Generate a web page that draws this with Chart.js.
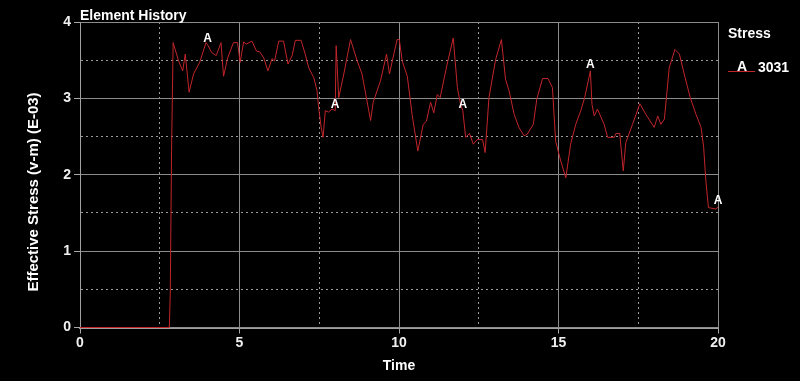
<!DOCTYPE html>
<html>
<head>
<meta charset="utf-8">
<title>Element History</title>
<script src="https://cdn.jsdelivr.net/npm/chart.js"></script>
<style>
  html, body { margin: 0; padding: 0; background: #000; }
  #wrap { width: 800px; height: 381px; }
</style>
</head>
<body>
<div id="wrap"><canvas id="history" width="800" height="381"></canvas></div>
<script>
// values (time, effective stress E-03)
var times = [0, 2.8, 2.83, 2.87, 2.92, 3.09, 3.22, 3.30, 3.42, 3.56, 3.75, 3.95, 4.0, 4.13, 4.27, 4.42, 4.50, 4.63, 4.81, 4.94,
    5.02, 5.13, 5.21, 5.39, 5.53, 5.63, 5.76, 5.89, 6.02, 6.10, 6.23, 6.38, 6.52, 6.65, 6.75, 6.93, 7.06, 7.17, 7.33, 7.43,
    7.48, 7.56, 7.62, 7.69, 7.79, 7.90, 8.0, 8.03, 8.11, 8.27, 8.48, 8.69, 8.84, 9.11, 9.19, 9.42, 9.61, 9.70, 9.94, 10.01,
    10.10, 10.26, 10.41, 10.59, 10.76, 10.86, 10.99, 11.09, 11.20, 11.29, 11.51, 11.70, 11.83, 11.93, 12.0, 12.09, 12.21, 12.33, 12.45, 12.62,
    12.70, 12.82, 13.03, 13.21, 13.34, 13.45, 13.61, 13.76, 13.92, 14.02, 14.21, 14.32, 14.50, 14.67, 14.81, 14.91, 15.07, 15.23, 15.38, 15.54,
    15.70, 15.82, 16.0, 16.05, 16.12, 16.22, 16.43, 16.54, 16.75, 16.80, 16.92, 17.03, 17.11, 17.32, 17.55, 17.74, 18.00, 18.11, 18.21, 18.32,
    18.47, 18.65, 18.79, 18.94, 19.13, 19.31, 19.47, 19.55, 19.62, 19.70, 19.94, 20.0];
var stress = [0, 0, 0.45, 2.3, 3.73, 3.49, 3.36, 3.58, 3.08, 3.32, 3.47, 3.73, 3.70, 3.60, 3.56, 3.73, 3.29, 3.53, 3.73, 3.73,
    3.47, 3.74, 3.71, 3.75, 3.62, 3.61, 3.53, 3.36, 3.52, 3.49, 3.75, 3.75, 3.45, 3.56, 3.76, 3.76, 3.58, 3.40, 3.27, 3.10,
    2.88, 2.62, 2.49, 2.84, 2.82, 2.86, 2.84, 3.69, 3.01, 3.32, 3.77, 3.49, 3.32, 2.71, 2.95, 3.23, 3.58, 3.32, 3.77, 3.77,
    3.49, 3.29, 2.79, 2.31, 2.66, 2.70, 2.95, 2.81, 3.05, 3.01, 3.45, 3.79, 3.14, 2.92, 2.84, 2.49, 2.54, 2.40, 2.46, 2.46,
    2.29, 3.01, 3.51, 3.77, 3.25, 3.10, 2.79, 2.62, 2.51, 2.53, 2.66, 2.99, 3.26, 3.26, 3.14, 2.44, 2.18, 1.96, 2.40, 2.66,
    2.84, 3.01, 3.36, 2.92, 2.77, 2.86, 2.66, 2.49, 2.49, 2.54, 2.54, 2.05, 2.42, 2.66, 2.93, 2.79, 2.62, 2.77, 2.66, 2.73,
    3.40, 3.64, 3.58, 3.32, 3.01, 2.79, 2.62, 2.36, 1.92, 1.57, 1.55, 1.58];

var markerTimes = [4, 8, 12, 16, 20];
var markerText = 'A';
var seriesName = '3031';
var legendTitle = 'Stress';
var xTicks = [0, 5, 10, 15, 20];
var yTicks = [0, 1, 2, 3, 4];

var points = times.map(function (t, i) { return {x: t, y: stress[i]}; });
var boldFont = function (size) { return {family: 'Arial, "Liberation Sans", sans-serif', size: size, weight: 'bold'}; };
var gridColor = '#8c8c8c';

// text drawn on top: title, y title, legend and the "A" markers
var labelPlugin = {
    id: 'labels',
    afterDatasetsDraw: function (chart) {
        var ctx = chart.ctx;
        var meta = chart.getDatasetMeta(0);
        ctx.save();
        ctx.fillStyle = '#ffffff';
        ctx.font = 'bold 12px Arial, "Liberation Sans", sans-serif';
        ctx.textAlign = 'center';
        ctx.textBaseline = 'middle';
        markerTimes.forEach(function (t) {
            var i = times.indexOf(t);
            var el = meta.data[i];
            ctx.fillText(markerText, el.x, el.y - 6);
        });
        ctx.restore();
    },
    afterDraw: function (chart) {
        var ctx = chart.ctx;
        ctx.save();
        ctx.fillStyle = '#ffffff';
        ctx.font = 'bold 14px Arial, "Liberation Sans", sans-serif';
        ctx.textBaseline = 'alphabetic';
        ctx.fillText('Element History', 80, 20);

        // y axis title
        ctx.save();
        ctx.translate(34, 192);
        ctx.rotate(-Math.PI / 2);
        ctx.textAlign = 'center';
        ctx.textBaseline = 'middle';
        ctx.font = 'bold 15px Arial, "Liberation Sans", sans-serif';
        ctx.fillText('Effective Stress (v-m) (E-03)', 0, 0);
        ctx.restore();

        // legend
        ctx.fillText(legendTitle, 728, 38);
        ctx.strokeStyle = chart.data.datasets[0].borderColor;
        ctx.lineWidth = 1;
        ctx.beginPath();
        ctx.moveTo(728, 71.5);
        ctx.lineTo(755, 71.5);
        ctx.stroke();
        ctx.textAlign = 'center';
        ctx.fillText(markerText, 742, 71);
        ctx.textAlign = 'left';
        ctx.fillText(seriesName, 758, 72);
        ctx.restore();
    }
};

var ctx = document.getElementById('history').getContext('2d');
var myChart = new Chart(ctx, {
    type: 'line',
    data: {
        datasets: [{
            label: seriesName,
            data: points,
            borderColor: '#c2252b',
            borderWidth: 1,
            pointRadius: 0,
            tension: 0,
            clip: false
        }]
    },
    options: {
        responsive: false,
        animation: false,
        devicePixelRatio: 1,
        layout: { padding: {top: 22, right: 82, bottom: 0, left: 0} },
        plugins: { legend: {display: false}, tooltip: {enabled: false} },
        scales: {
            x: {
                type: 'linear',
                min: 0,
                max: 20,
                afterFit: function (s) { s.height = 53.5; },
                ticks: {
                    stepSize: 2.5,
                    autoSkip: false,
                    maxRotation: 0,
                    padding: 1,
                    color: '#f0f0f0',
                    font: boldFont(14),
                    callback: function (v) { return xTicks.indexOf(v) >= 0 ? String(v) : ''; }
                },
                grid: {
                    color: function (c) { return c.tick && xTicks.indexOf(c.tick.value) < 0 ? '#9a9a9a' : gridColor; },
                    tickLength: 6,
                    tickColor: function (c) { return c.tick && xTicks.indexOf(c.tick.value) >= 0 ? '#a8a8a8' : 'rgba(0,0,0,0)'; }
                },
                border: {
                    color: '#a0a0a0',
                    width: 2,
                    z: -1,
                    dash: function (c) { return c.tick && xTicks.indexOf(c.tick.value) < 0 ? [2, 3] : []; }
                },
                title: {
                    display: true,
                    text: 'Time',
                    color: '#ffffff',
                    font: boldFont(14),
                    padding: {top: 0, bottom: 6}
                }
            },
            y: {
                min: 0,
                max: 4,
                afterFit: function (s) { s.width = 80; },
                ticks: {
                    stepSize: 0.5,
                    autoSkip: false,
                    padding: 3,
                    color: '#f0f0f0',
                    font: boldFont(14),
                    callback: function (v) { return yTicks.indexOf(v) >= 0 ? String(v) : ''; }
                },
                grid: {
                    color: function (c) { return c.tick && yTicks.indexOf(c.tick.value) < 0 ? '#9a9a9a' : gridColor; },
                    tickLength: 6,
                    tickColor: function (c) { return c.tick && yTicks.indexOf(c.tick.value) >= 0 ? '#a8a8a8' : 'rgba(0,0,0,0)'; }
                },
                border: {
                    color: '#a0a0a0',
                    width: 1,
                    z: -1,
                    dash: function (c) { return c.tick && yTicks.indexOf(c.tick.value) < 0 ? [2, 3] : []; }
                }
            }
        }
    },
    plugins: [labelPlugin]
});
</script>
</body>
</html>
